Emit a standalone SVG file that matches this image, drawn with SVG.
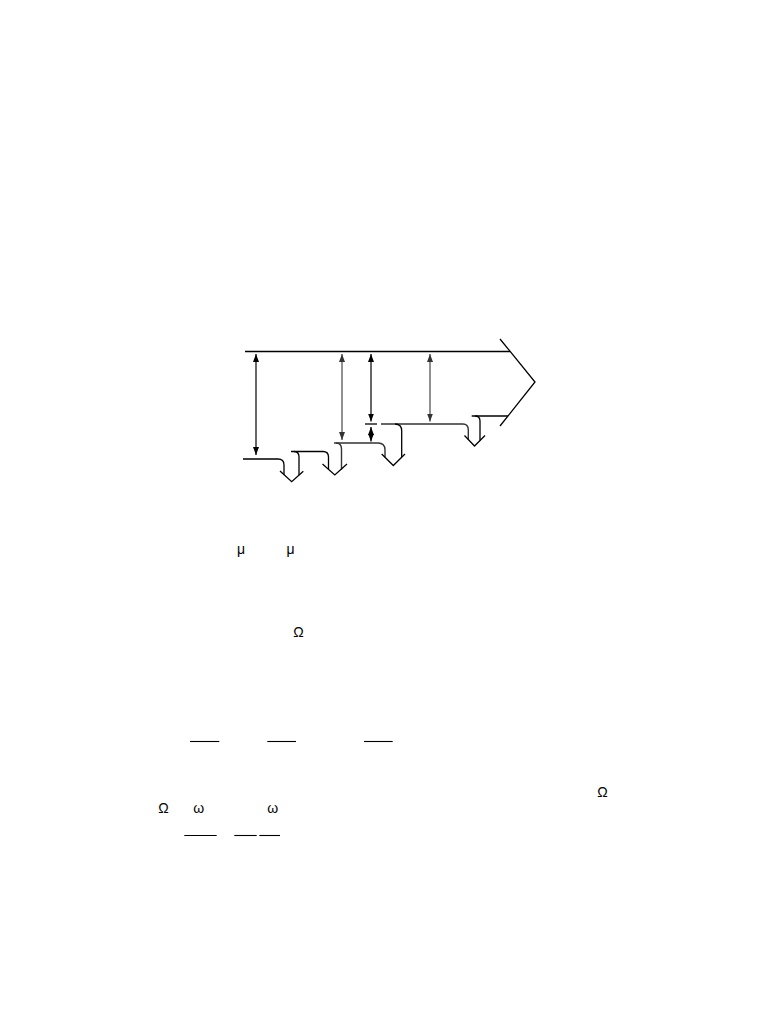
<svg xmlns="http://www.w3.org/2000/svg" width="768" height="1024" viewBox="0 0 768 1024">
<style>
.ln{fill:none;stroke:#000;stroke-width:1.3;stroke-linecap:butt;stroke-linejoin:miter}
.gr{fill:none;stroke:#333;stroke-width:1.4}
.dim{fill:none;stroke:#000;stroke-width:1.2}
.dimg{fill:none;stroke:#555;stroke-width:1.3}
.bar{stroke:#000;stroke-width:1.1}
.t{font-family:"Liberation Sans",Arial,sans-serif;font-size:14px;fill:#000}
</style>
<defs>
<marker id="ah" viewBox="0 0 8 6" refX="8" refY="3" markerWidth="8" markerHeight="6" markerUnits="userSpaceOnUse" orient="auto-start-reverse">
<path d="M0,0 L8,3 L0,6 Z" fill="#000"/>
</marker>
<marker id="ahg" viewBox="0 0 8 6" refX="8" refY="3" markerWidth="8" markerHeight="6" markerUnits="userSpaceOnUse" orient="auto-start-reverse">
<path d="M0,0 L8,3 L0,6 Z" fill="#333"/>
</marker>
</defs>
<rect width="768" height="1024" fill="#fff"/>
<g id="big-arrow">
<path class="ln" d="M245,351.5 H510"/>
<path class="ln" d="M500,339 L535,382 L500,426"/>
</g>
<g id="levels">
<path class="ln" d="M243,459 H278 Q284,459 284,465 V474.7"/>
<path class="ln" d="M291,451.5 H323 Q328.5,451.5 328.5,457 V469.4"/>
<path class="ln" d="M294,451.5 Q299,451.5 299,457 V475.3"/>
<path class="gr" d="M334,443 H378 Q385,443 385,450 V457.3"/>
<path class="gr" d="M336,443 Q341.5,443 341.5,449 V469.5"/>
<path class="gr" d="M381,424 H463 Q468.3,424 468.3,430 V439.5"/>
<path class="ln" d="M395,424 Q401.7,424 401.7,431 V457"/>
<path class="ln" d="M471.7,416 H508"/>
<path class="ln" d="M475,416 Q480,416 480,421 V440.5"/>
<path class="ln" d="M365,424 H377"/>
</g>
<g id="drop-arrows">
<path class="ln" d="M280,471 L291.7,481.7 L303.3,471.3"/>
<path class="ln" d="M322.5,464 L334.8,475 L347,464"/>
<path class="ln" d="M381.7,454 L393.3,465.5 L405,454"/>
<path class="ln" d="M464.5,435.5 L474.5,446 L485,435.5"/>
</g>
<g id="connectors">
<line class="dim" x1="256" y1="354" x2="256" y2="455" marker-start="url(#ah)" marker-end="url(#ah)"/>
<line class="dimg" x1="342" y1="354" x2="342" y2="440" marker-start="url(#ahg)" marker-end="url(#ahg)"/>
<line class="dim" x1="371" y1="354" x2="371" y2="421.5" marker-start="url(#ah)" marker-end="url(#ah)"/>
<line class="dim" x1="371" y1="427" x2="371" y2="441.5" marker-start="url(#ah)" marker-end="url(#ah)"/>
<line class="dimg" x1="430" y1="354" x2="430" y2="421.5" marker-start="url(#ahg)" marker-end="url(#ahg)"/>
</g>
<g id="texts">
<text class="t" x="237" y="554">μ</text>
<text class="t" x="286.5" y="554">μ</text>
<text class="t" x="293.3" y="636.7">Ω</text>
<text class="t" x="158.3" y="812.7">Ω</text>
<text class="t" x="193.3" y="812.7">ω</text>
<text class="t" x="267.3" y="812.7">ω</text>
<text class="t" x="597.3" y="797.3">Ω</text>
</g>
<g id="bars">
<line class="bar" x1="190" y1="741.5" x2="219.3" y2="741.5"/>
<line class="bar" x1="267.3" y1="741.5" x2="296" y2="741.5"/>
<line class="bar" x1="364" y1="741.5" x2="392.7" y2="741.5"/>
<line class="bar" x1="184.3" y1="835.5" x2="216.7" y2="835.5"/>
<line class="bar" x1="234.3" y1="835.5" x2="256.7" y2="835.5"/>
<line class="bar" x1="259.3" y1="835.5" x2="280" y2="835.5"/>
</g>
</svg>
